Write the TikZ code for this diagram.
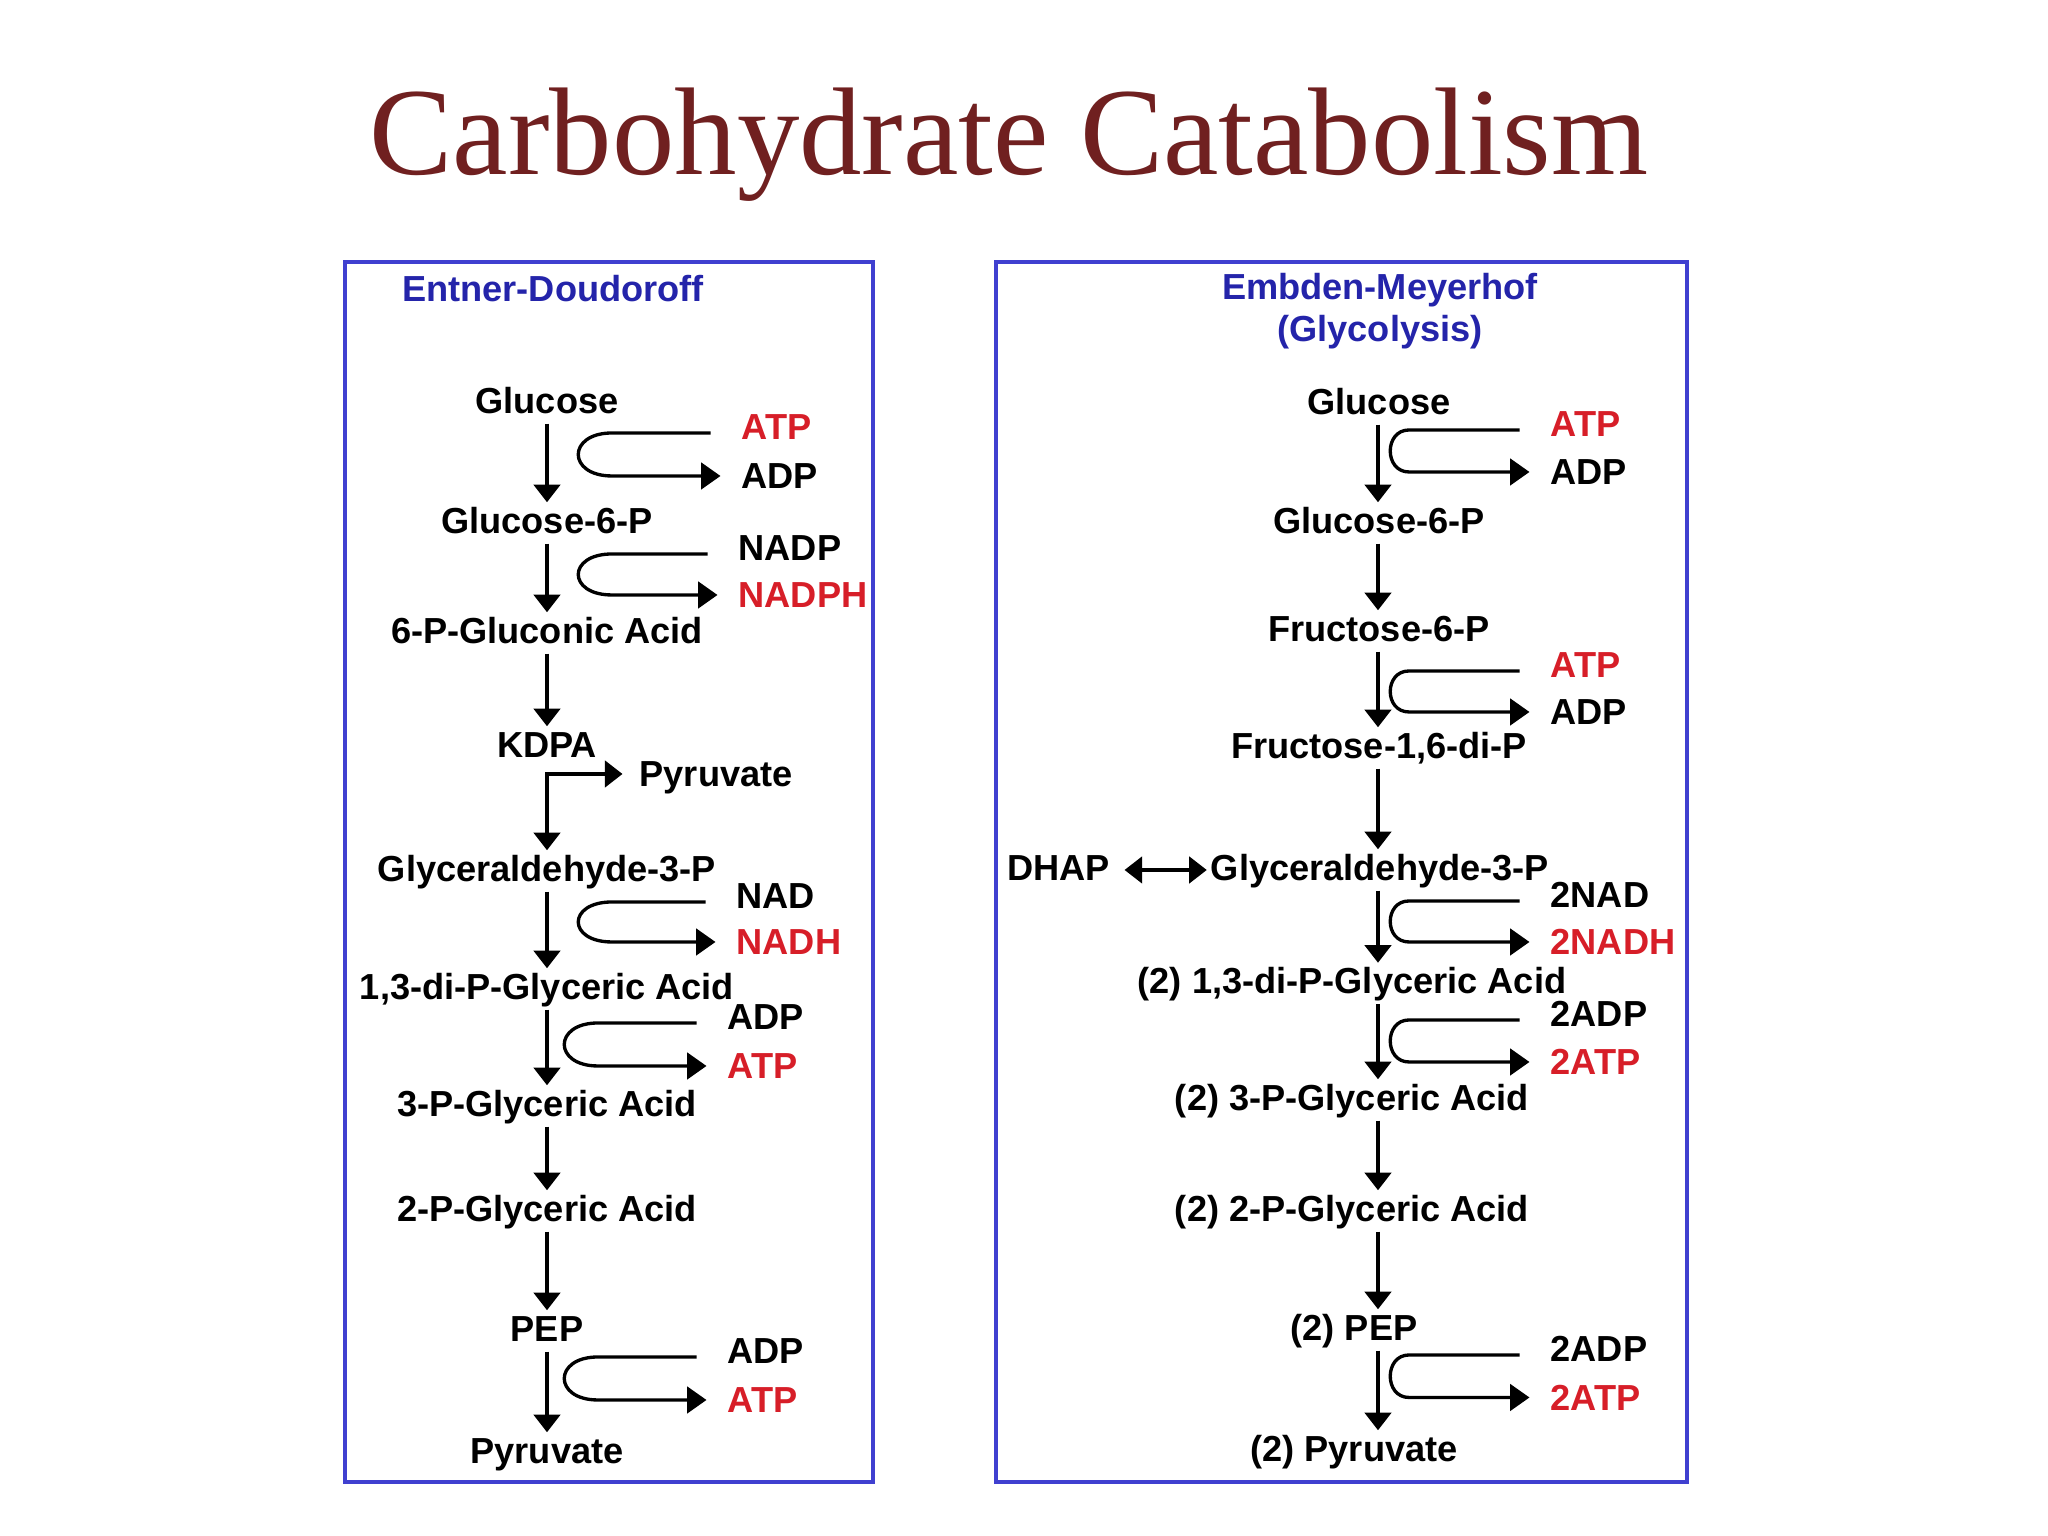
\documentclass[tikz,border=0pt]{standalone}
\usepackage{fontspec}
\setmainfont{Liberation Serif}
\setsansfont{Liberation Sans}
\usepackage{xcolor}
\usepackage{tikz}
\usetikzlibrary{arrows.meta,calc}
\definecolor{titlered}{RGB}{112,32,32}
\definecolor{pathblue}{RGB}{36,36,170}
\definecolor{boxblue}{RGB}{64,64,208}
\definecolor{energyred}{RGB}{215,30,40}
\tikzset{
  panel/.style={draw=boxblue, line width=1.1pt},
  heading/.style={font=\sffamily\bfseries\fontsize{10.3}{12}\selectfont, text=pathblue, align=center, inner sep=1pt},
  metab/.style={font=\sffamily\bfseries\fontsize{10.3}{12}\selectfont, inner sep=1pt, text height=7.6pt, text depth=1.8pt},
  cofac/.style={font=\sffamily\bfseries\fontsize{10.3}{12}\selectfont, inner sep=1pt, text height=7.4pt, text depth=0pt, anchor=west},
  energy/.style={cofac, text=energyred},      % ATP, NADH, NADPH
  flow/.style={-{Triangle[width=7.5pt,length=5pt]}, line width=0.95pt},
  flowboth/.style={{Triangle[width=7.5pt,length=5pt]}-{Triangle[width=7.5pt,length=5pt]}, line width=0.95pt},
  cofactor/.style={-{Triangle[width=7.5pt,length=5.5pt]}, line width=0.95pt}
}
\newcommand{\FlowStep}[3]{% #1=from, #2=to, #3=axis coordinate
  \draw[flow] (#1.south -| #3) -- (#2.north -| #3);%
}
\newcommand{\Cofactor}[4]{% #1=taken in, #2=given off, #3=bend coordinate, #4=bulge
  \draw[cofactor] ($(#1.west)+(-0.27,-0.06)$) -- ($(#1.west -| #3)+(0,-0.06)$)
    .. controls +(-#4,0) and +(-#4,0) .. (#2.west -| #3) -- ($(#2.west)+(-0.17,0)$);%
}

\begin{document}
\begin{tikzpicture}
  \useasboundingbox (0,0) rectangle (20.48,15.36);
  \fill[white] (0,0) rectangle (20.48,15.36);

  % Title
  \node[font=\fontsize{35.5}{40}\selectfont, text=titlered, anchor=base] (title) at (10.09,13.61) {Carbohydrate Catabolism};

  % Panels
  \draw[panel] (3.45,0.54) rectangle (8.73,12.74);
  \draw[panel] (9.96,0.54) rectangle (16.87,12.74);

  % --- Entner-Doudoroff ---
  \node[heading] (edTitle) at (5.53,12.47) {Entner-Doudoroff};
  \coordinate (edAxis) at (5.47,0);
  \node[metab] (edGlc) at (5.47,11.33) {Glucose};
  \node[metab] (edG6P) at (5.47,10.13) {Glucose-6-P};
  \node[metab] (ed6PG) at (5.47,9.03) {6-P-Gluconic Acid};
  \node[metab] (edKDPA) at (5.47,7.89) {KDPA};
  \coordinate (edBranch) at (5.47,7.62);
  \node[cofac] (edPyrSide) at (6.355,7.62) {Pyruvate};
  \node[metab] (edG3P) at (5.47,6.65) {Glyceraldehyde-3-P};
  \node[metab] (edBPG) at (5.47,5.47) {1,3-di-P-Glyceric Acid};
  \node[metab] (ed3PG) at (5.47,4.30) {3-P-Glyceric Acid};
  \node[metab] (ed2PG) at (5.47,3.25) {2-P-Glyceric Acid};
  \node[metab] (edPEP) at (5.47,2.05) {PEP};
  \node[metab] (edPyr) at (5.47,0.83) {Pyruvate};

  \FlowStep{edGlc}{edG6P}{edAxis}
  \FlowStep{edG6P}{ed6PG}{edAxis}
  \FlowStep{ed6PG}{edKDPA}{edAxis}
  \draw[flowboth] ($(edPyrSide.west)+(-0.13,0)$) -- (edBranch) -- (edG3P.north -| edAxis);
  \FlowStep{edG3P}{edBPG}{edAxis}
  \FlowStep{edBPG}{ed3PG}{edAxis}
  \FlowStep{ed3PG}{ed2PG}{edAxis}
  \FlowStep{ed2PG}{edPEP}{edAxis}
  \FlowStep{edPEP}{edPyr}{edAxis}

  \node[energy] (edAtpIn) at (7.375,11.09) {ATP};
  \node[cofac] (edAdpOut) at (7.375,10.60) {ADP};
  \node[cofac] (edNadp) at (7.345,9.88) {NADP};
  \node[energy] (edNadph) at (7.345,9.41) {NADPH};
  \node[cofac] (edNad) at (7.325,6.40) {NAD};
  \node[energy] (edNadh) at (7.325,5.94) {NADH};
  \node[cofac] (edAdpA) at (7.235,5.19) {ADP};
  \node[energy] (edAtpA) at (7.235,4.70) {ATP};
  \node[cofac] (edAdpB) at (7.235,1.85) {ADP};
  \node[energy] (edAtpB) at (7.235,1.36) {ATP};

  \coordinate (edBendA) at (6.12,0);
  \coordinate (edBendB) at (5.98,0);
  \Cofactor{edAtpIn}{edAdpOut}{edBendA}{0.45}
  \Cofactor{edNadp}{edNadph}{edBendA}{0.45}
  \Cofactor{edNad}{edNadh}{edBendA}{0.45}
  \Cofactor{edAdpA}{edAtpA}{edBendB}{0.45}
  \Cofactor{edAdpB}{edAtpB}{edBendB}{0.45}

  % --- Embden-Meyerhof ---
  \node[heading] (emTitle) at (13.80,12.25) {Embden-Meyerhof\\(Glycolysis)};
  \coordinate (emAxis) at (13.78,0);
  \node[metab] (emGlc) at (13.79,11.32) {Glucose};
  \node[metab] (emG6P) at (13.79,10.13) {Glucose-6-P};
  \node[metab] (emF6P) at (13.79,9.05) {Fructose-6-P};
  \node[metab] (emFBP) at (13.79,7.88) {Fructose-1,6-di-P};
  \node[metab] (emG3P) at (13.80,6.66) {Glyceraldehyde-3-P};
  \node[metab] (emDHAP) at (10.585,6.66) {DHAP};
  \node[metab] (emBPG) at (13.52,5.525) {(2) 1,3-di-P-Glyceric Acid};
  \node[metab] (em3PG) at (13.52,4.36) {(2) 3-P-Glyceric Acid};
  \node[metab] (em2PG) at (13.52,3.25) {(2) 2-P-Glyceric Acid};
  \node[metab] (emPEP) at (13.54,2.06) {(2) PEP};
  \node[metab] (emPyr) at (13.54,0.85) {(2) Pyruvate};

  \FlowStep{emGlc}{emG6P}{emAxis}
  \FlowStep{emG6P}{emF6P}{emAxis}
  \FlowStep{emF6P}{emFBP}{emAxis}
  \FlowStep{emFBP}{emG3P}{emAxis}
  \draw[flowboth, shorten <=3pt] (emDHAP) -- (emG3P);
  \FlowStep{emG3P}{emBPG}{emAxis}
  \FlowStep{emBPG}{em3PG}{emAxis}
  \FlowStep{em3PG}{em2PG}{emAxis}
  \FlowStep{em2PG}{emPEP}{emAxis}
  \FlowStep{emPEP}{emPyr}{emAxis}

  \node[energy] (emAtpIn) at (15.465,11.12) {ATP};
  \node[cofac] (emAdpOut) at (15.465,10.64) {ADP};
  \node[energy] (emAtpF) at (15.465,8.71) {ATP};
  \node[cofac] (emAdpF) at (15.465,8.24) {ADP};
  \node[cofac] (emNad) at (15.465,6.41) {2NAD};
  \node[energy] (emNadh) at (15.465,5.94) {2NADH};
  \node[cofac] (emAdpA) at (15.465,5.22) {2ADP};
  \node[energy] (emAtpA) at (15.465,4.74) {2ATP};
  \node[cofac] (emAdpB) at (15.465,1.87) {2ADP};
  \node[energy] (emAtpB) at (15.465,1.385) {2ATP};

  \coordinate (emBend) at (14.09,0);
  \Cofactor{emAtpIn}{emAdpOut}{emBend}{0.25}
  \Cofactor{emAtpF}{emAdpF}{emBend}{0.25}
  \Cofactor{emNad}{emNadh}{emBend}{0.25}
  \Cofactor{emAdpA}{emAtpA}{emBend}{0.25}
  \Cofactor{emAdpB}{emAtpB}{emBend}{0.25}
\end{tikzpicture}
\end{document}
